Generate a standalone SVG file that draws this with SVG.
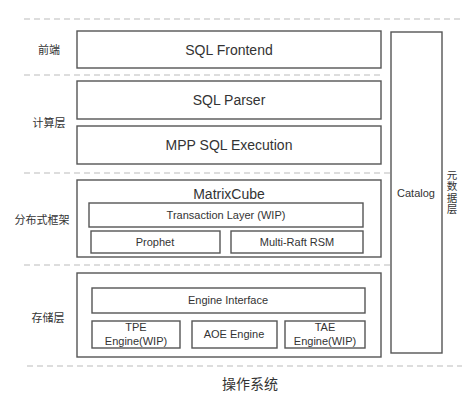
<svg xmlns="http://www.w3.org/2000/svg" width="474" height="407" viewBox="0 0 474 407">
<style>
.box{fill:#fff;stroke:#555;stroke-width:1.4}
.dash{stroke:#bbb;stroke-width:1;stroke-dasharray:6 4;fill:none}
text{font-family:"Liberation Sans","Noto Sans CJK SC",sans-serif;fill:#333;text-anchor:middle;dominant-baseline:central}
.big{font-size:14px}
.sm{font-size:11px}
.lbl{font-size:11px;font-family:"Noto Sans CJK SC",sans-serif}
.vl{font-size:10.5px;font-family:"Noto Sans CJK SC",sans-serif;writing-mode:vertical-rl;text-anchor:start;letter-spacing:1px}
</style>
<rect width="474" height="407" fill="#fff"/>
<g id="connectors">
<line class="dash" x1="24" y1="19" x2="462" y2="19"/>
<line class="dash" x1="24" y1="75" x2="384" y2="75"/>
<line class="dash" x1="24" y1="173" x2="390" y2="173"/>
<line class="dash" x1="24" y1="265" x2="390" y2="265"/>
<line class="dash" x1="27" y1="366" x2="462" y2="366"/>
</g>
<g id="labels">
<text class="lbl" x="49" y="49">前端</text>
<text class="lbl" x="49" y="122">计算层</text>
<text class="lbl" x="42" y="219">分布式框架</text>
<text class="lbl" x="48" y="317">存储层</text>
<text class="lbl" x="250" y="383" style="font-size:14px">操作系统</text>
<text class="vl" x="452" y="169.5">元数据层</text>
</g>
<g id="sql-frontend"><rect class="box" x="77" y="31" width="304" height="37"/><text class="big" x="229" y="50">SQL Frontend</text></g>
<g id="sql-parser"><rect class="box" x="77" y="81" width="304" height="38"/><text class="big" x="229" y="100">SQL Parser</text></g>
<g id="mpp"><rect class="box" x="77" y="126" width="304" height="38"/><text class="big" x="229" y="145">MPP SQL Execution</text></g>
<g id="catalog"><rect class="box" x="391" y="32" width="51" height="321"/><text class="sm" x="416" y="193">Catalog</text></g>
<g id="matrixcube"><rect class="box" x="77" y="180" width="304" height="77"/><text class="big" x="229" y="194">MatrixCube</text></g>
<g id="transaction"><rect class="box" x="89" y="203" width="274" height="24"/><text class="sm" x="226" y="215">Transaction Layer (WIP)</text></g>
<g id="prophet"><rect class="box" x="91" y="231" width="129" height="22"/><text class="sm" x="155" y="242">Prophet</text></g>
<g id="multiraft"><rect class="box" x="231" y="231" width="132" height="22"/><text class="sm" x="297" y="242">Multi-Raft RSM</text></g>
<g id="storage"><rect class="box" x="77" y="273" width="304" height="84"/></g>
<g id="engine-interface"><rect class="box" x="92" y="288" width="273" height="25"/><text class="sm" x="228" y="300">Engine Interface</text></g>
<g id="tpe"><rect class="box" x="92" y="321" width="88" height="27"/><text class="sm" x="136" y="327">TPE</text><text class="sm" x="136" y="341">Engine(WIP)</text></g>
<g id="aoe"><rect class="box" x="192" y="321" width="85" height="27"/><text class="sm" x="234" y="334">AOE Engine</text></g>
<g id="tae"><rect class="box" x="285" y="321" width="80" height="27"/><text class="sm" x="325" y="327">TAE</text><text class="sm" x="325" y="341">Engine(WIP)</text></g>
</svg>
